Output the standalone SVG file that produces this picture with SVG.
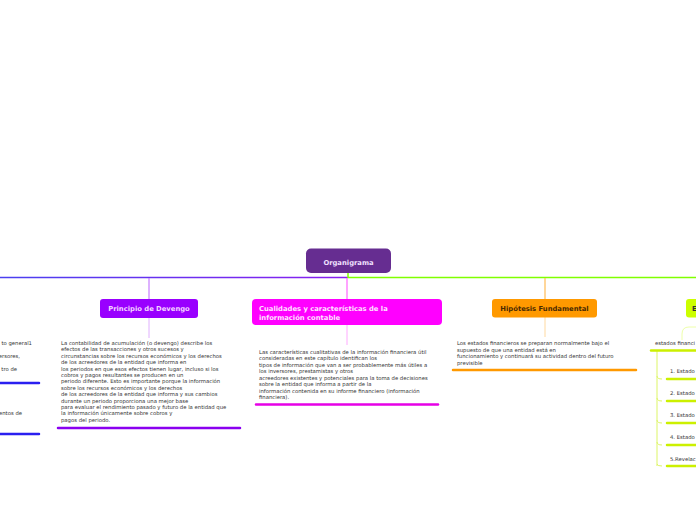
<svg xmlns="http://www.w3.org/2000/svg" width="696" height="520" viewBox="0 0 696 520">
<style>
.t{font-family:"DejaVu Sans",Verdana,sans-serif;font-size:5.3px;fill:#333}
.h{font-family:"DejaVu Sans",Verdana,sans-serif;font-size:6.8px;font-weight:bold}
</style>
<defs>
<linearGradient id="lg" gradientUnits="userSpaceOnUse" x1="0" y1="0" x2="348" y2="0"><stop offset="0" stop-color="#4a40f0"/><stop offset="1" stop-color="#8a1ff0"/></linearGradient>
</defs>
<rect width="696" height="520" fill="#fff"/>
<g id="connectors" fill="none">
<path d="M0 277.5H348" stroke="url(#lg)" stroke-width="1.5"/>
<path d="M348 277.5H696" stroke="#80ff00" stroke-width="1.5"/>
<path d="M348 273V278" stroke="#80ff00" stroke-width="1.5"/>
<path d="M149 278V299" stroke="#c77dff" stroke-width="1.2"/>
<path d="M149 318V338" stroke="#e0b0ff" stroke-width="1"/>
<path d="M347 278V299" stroke="#ff66ff" stroke-width="1.2"/>
<path d="M347 325V345" stroke="#ffaaff" stroke-width="1"/>
<path d="M545 278V299" stroke="#ffbb55" stroke-width="1.2"/>
<path d="M545 317V337" stroke="#ffd9a0" stroke-width="1"/>
<path d="M696 327H689Q682 327 682 334V340" stroke="#eeffaa" stroke-width="1"/>
<path d="M657 350V466" stroke="#ddf566" stroke-width="1"/>
<path d="M657 376Q657 379 662 379M657 398Q657 401 662 401M657 420Q657 423 662 423M657 442Q657 445 662 445M657 464Q657 466 662 466" stroke="#ddf566" stroke-width="1"/>
</g>
<g id="root">
<rect x="306" y="248.5" width="85" height="24.5" rx="5" fill="#662d91"/>
<text class="h" x="348.5" y="264.5" text-anchor="middle" fill="#f0e0ff" font-size="8.5">Organigrama</text>
</g>
<g id="left-partial">
<text class="t" x="32" y="345" text-anchor="end">to general1</text>
<text class="t" x="20" y="358" text-anchor="end">ersores,</text>
<text class="t" x="17" y="371" text-anchor="end">tro de</text>
<path d="M0 383H39" stroke="#2a1ff0" stroke-width="2.5" stroke-linecap="round"/>
<text class="t" x="22" y="415" text-anchor="end">entos de</text>
<path d="M0 434H39" stroke="#2a1ff0" stroke-width="2.5" stroke-linecap="round"/>
</g>
<g id="devengo">
<rect x="100" y="299" width="98" height="19" rx="3" fill="#9900ff"/>
<text class="h" x="149" y="310.5" text-anchor="middle" fill="#f3d4ff">Principio de Devengo</text>
<text class="t" x="61" y="345"><tspan x="61">La contabilidad de acumulación (o devengo) describe los</tspan><tspan x="61" dy="6.4">efectos de las transacciones y otros sucesos y</tspan><tspan x="61" dy="6.4">circunstancias sobre los recursos económicos y los derechos</tspan><tspan x="61" dy="6.4">de los acreedores de la entidad que informa en</tspan><tspan x="61" dy="6.4">los periodos en que esos efectos tienen lugar, incluso si los</tspan><tspan x="61" dy="6.4">cobros y pagos resultantes se producen en un</tspan><tspan x="61" dy="6.4">periodo diferente. Esto es importante porque la información</tspan><tspan x="61" dy="6.4">sobre los recursos económicos y los derechos</tspan><tspan x="61" dy="6.4">de los acreedores de la entidad que informa y sus cambios</tspan><tspan x="61" dy="6.4">durante un periodo proporciona una mejor base</tspan><tspan x="61" dy="6.4">para evaluar el rendimiento pasado y futuro de la entidad que</tspan><tspan x="61" dy="6.4">la información únicamente sobre cobros y</tspan><tspan x="61" dy="6.4">pagos del periodo.</tspan></text>
<path d="M58 428H240" stroke="#8a00f0" stroke-width="2.5" stroke-linecap="round"/>
</g>
<g id="cualidades">
<rect x="252" y="299" width="190" height="26" rx="4" fill="#ff00ff"/>
<text class="h" x="259" y="311" fill="#ffe0ff"><tspan x="259">Cualidades y características de la</tspan><tspan x="259" dy="8.5">información contable</tspan></text>
<text class="t" x="259" y="354"><tspan x="259">Las características cualitativas de la información financiera útil</tspan><tspan x="259" dy="5.9">consideradas en este capítulo identifican los</tspan><tspan x="259" dy="7">tipos de información que van a ser probablemente más útiles a</tspan><tspan x="259" dy="5.9">los inversores, prestamistas y otros</tspan><tspan x="259" dy="7">acreedores existentes y potenciales para la toma de decisiones</tspan><tspan x="259" dy="5.9">sobre la entidad que informa a partir de la</tspan><tspan x="259" dy="7">información contenida en su informe financiero (información</tspan><tspan x="259" dy="5.9">financiera).</tspan></text>
<path d="M256 404.5H438" stroke="#e600e6" stroke-width="2.5" stroke-linecap="round"/>
</g>
<g id="hipotesis">
<rect x="492" y="299" width="105" height="18.5" rx="3" fill="#ff9900"/>
<text class="h" x="544.5" y="311" text-anchor="middle" fill="#4a2a00">Hipótesis Fundamental</text>
<text class="t" x="457" y="345"><tspan x="457">Los estados financieros se preparan normalmente bajo el</tspan><tspan x="457" dy="6.5">supuesto de que una entidad está en</tspan><tspan x="457" dy="6.5">funcionamiento y continuará su actividad dentro del futuro</tspan><tspan x="457" dy="6.5">previsible</tspan></text>
<path d="M453 370H636" stroke="#ff9900" stroke-width="2.5" stroke-linecap="round"/>
</g>
<g id="estados">
<rect x="686" y="299" width="30" height="18.5" rx="3" fill="#ccff00"/>
<text class="h" x="692" y="311" fill="#333">E</text>
<text class="t" x="655" y="345">estados financi</text>
<path d="M651 350.5H696" stroke="#ccf000" stroke-width="2.5" stroke-linecap="round"/>
<text class="t" x="670" y="373">1. Estado</text>
<path d="M667 379H696" stroke="#ccf000" stroke-width="2.5" stroke-linecap="round"/>
<text class="t" x="670" y="395">2. Estado</text>
<path d="M667 401H696" stroke="#ccf000" stroke-width="2.5" stroke-linecap="round"/>
<text class="t" x="670" y="417">3. Estado</text>
<path d="M667 423H696" stroke="#ccf000" stroke-width="2.5" stroke-linecap="round"/>
<text class="t" x="670" y="439">4. Estado</text>
<path d="M667 445H696" stroke="#ccf000" stroke-width="2.5" stroke-linecap="round"/>
<text class="t" x="670" y="461">5.Revelac</text>
<path d="M667 466H696" stroke="#ccf000" stroke-width="2.5" stroke-linecap="round"/>
</g>
</svg>
